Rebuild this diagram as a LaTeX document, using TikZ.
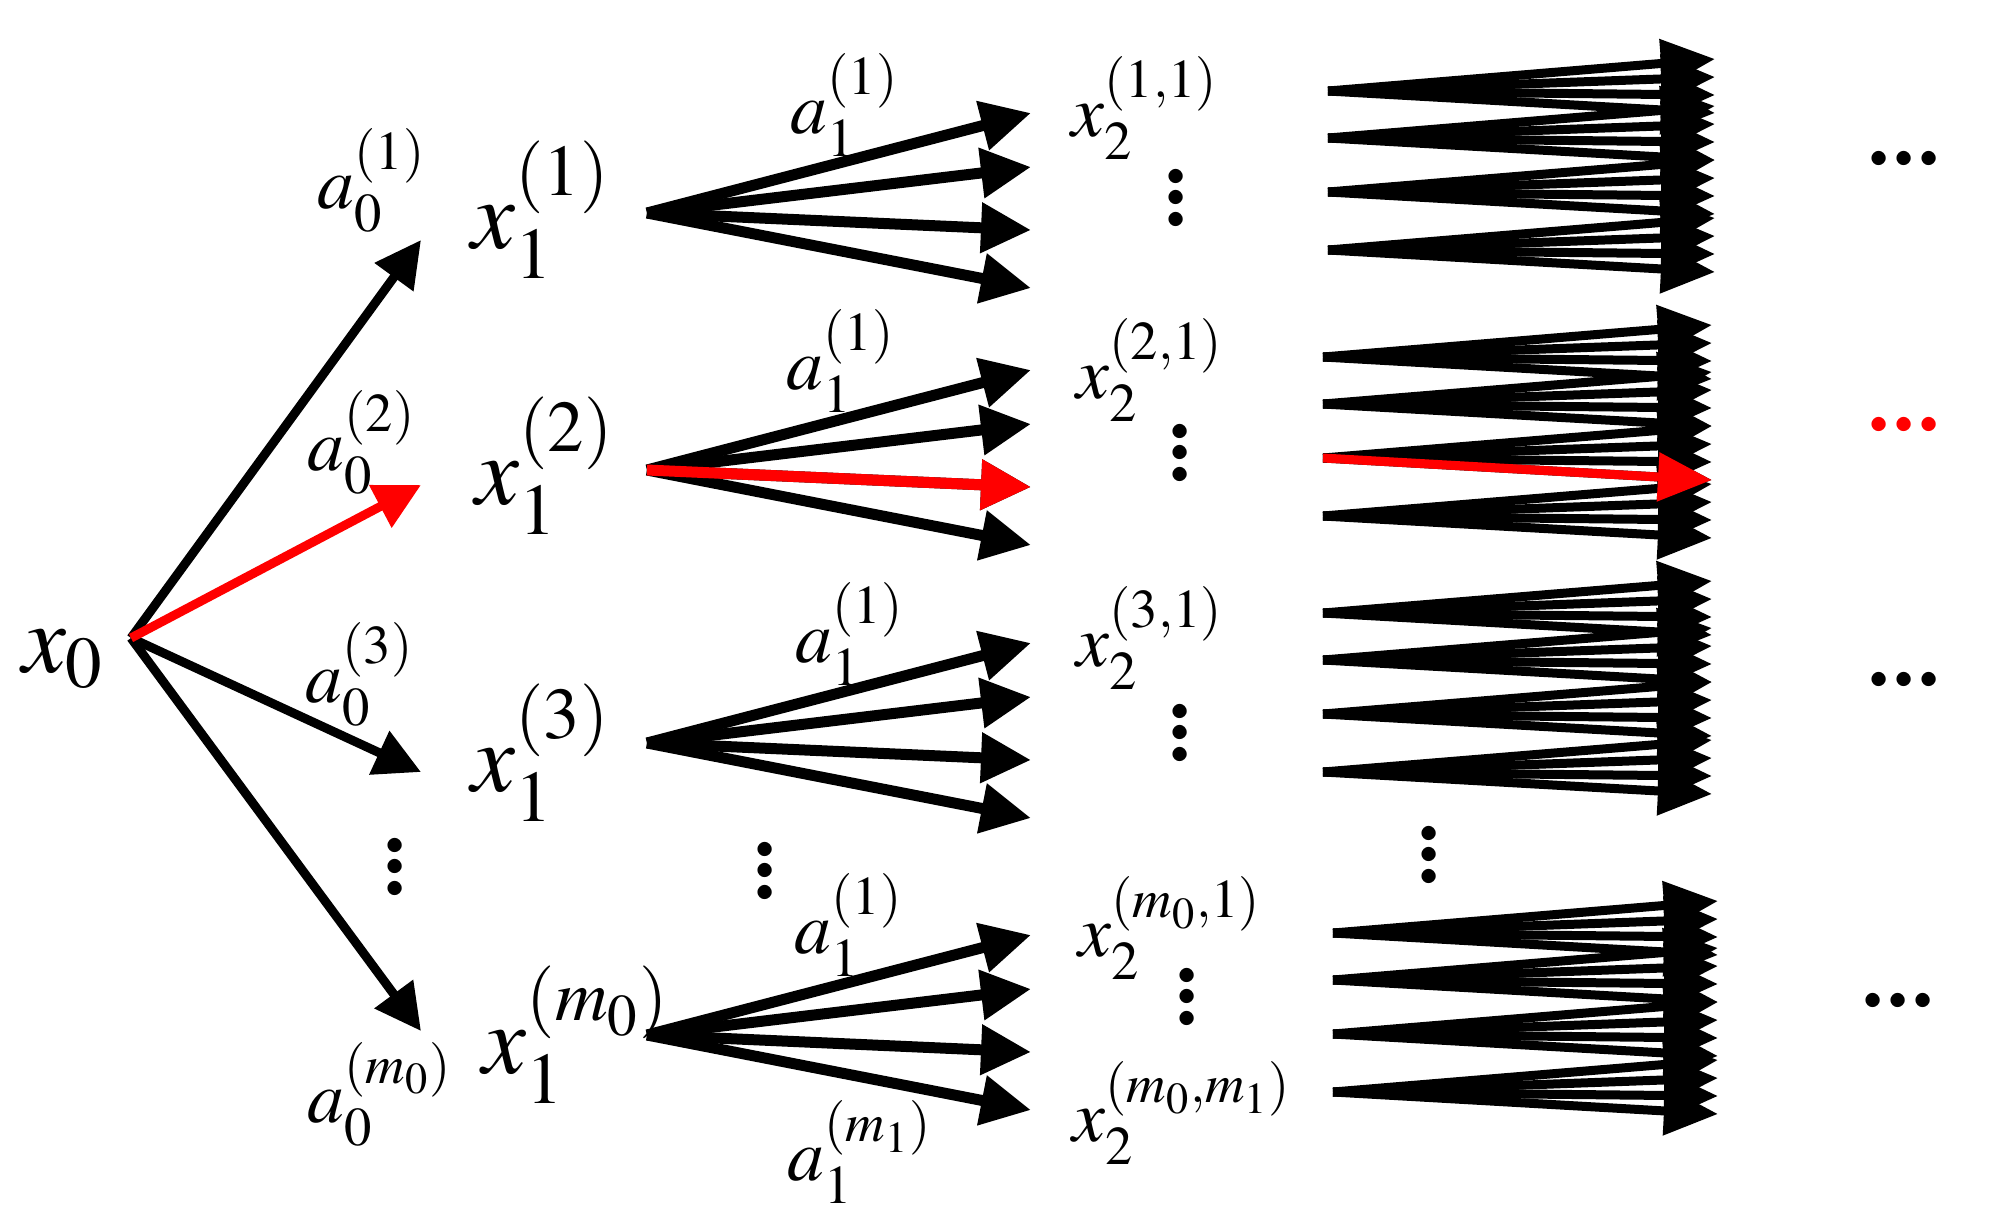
\documentclass[tikz,border=0pt]{standalone}
\usepackage{mathptmx}
\usetikzlibrary{arrows.meta}

\newcommand{\vdotz}{\vbox{\baselineskip=6pt \lineskiplimit=-10pt \hbox{.}\hbox{.}\hbox{.}}}
\newcommand{\hdotz}{\hbox{.\kern1pt.\kern1pt.}}

\begin{document}
\begin{tikzpicture}[
    x=0.1mm, y=-0.1mm,
    big/.style={font=\fontsize{28}{28}\selectfont, inner sep=0pt},
    small/.style={font=\fontsize{21}{21}\selectfont, inner sep=0pt},
    dotz/.style={font=\fontsize{24}{24}\usefont{OT1}{ptm}{b}{n}, inner sep=0pt},
    act/.style={line width=0.9mm, -{Triangle[length=4.6mm,width=4.6mm]}},
    fan/.style={line width=1.1mm, -{Triangle[length=5mm,width=4.8mm]}},
    leaf/.style={line width=0.9mm, -{Triangle[length=5.4mm,width=4.7mm]}}
  ]
    \useasboundingbox (0,0) rectangle (2000,1210);

    % states
    \node[big] (x0) at (63,659) {$x_0$};
    \node[big] (x11) at (541,210) {$x_1^{(1)}$};
    \node[big] (x12) at (545,466) {$x_1^{(2)}$};
    \node[big] (x13) at (541,753) {$x_1^{(3)}$};
    \node[big] (x1m) at (576,1035) {$x_1^{(m_0)}$};

    \node[small] (x211) at (1145,108) {$x_2^{(1,1)}$};
    \node[small] (x221) at (1150,370) {$x_2^{(2,1)}$};
    \node[small] (x231) at (1150,638) {$x_2^{(3,1)}$};
    \node[small] (x2m1) at (1170,928) {$x_2^{(m_0,1)}$};
    \node[small] (x2mm) at (1182,1113) {$x_2^{(m_0,m_1)}$};

    % actions
    \node[small] (a01) at (372,180) {$a_0^{(1)}$};
    \node[small] (a02) at (362,442) {$a_0^{(2)}$};
    \node[small] (a03) at (360,674) {$a_0^{(3)}$};
    \node[small] (a0m) at (380,1094) {$a_0^{(m_0)}$};

    \node[small] (a11) at (845,105) {$a_1^{(1)}$};
    \node[small] (a12) at (841,361) {$a_1^{(1)}$};
    \node[small] (a13) at (850,634) {$a_1^{(1)}$};
    \node[small] (a14) at (849,925) {$a_1^{(1)}$};
    \node[small] (a1m) at (860,1152) {$a_1^{(m_1)}$};

    % dots
    \node[dotz] (v0) at (395,867) {\vdotz};
    \node[dotz] (v1) at (765,871) {\vdotz};
    \node[dotz] (v2) at (1429,855) {\vdotz};
    \node[dotz] (v21) at (1176,198) {\vdotz};
    \node[dotz] (v22) at (1180,453) {\vdotz};
    \node[dotz] (v23) at (1180,733) {\vdotz};
    \node[dotz] (v24) at (1187,997) {\vdotz};
    \node[dotz] (h1) at (1904,159) {\hdotz};
    \node[dotz, red] (h2) at (1904,425) {\hdotz};
    \node[dotz] (h3) at (1904,680) {\hdotz};
    \node[dotz] (h4) at (1898,1001) {\hdotz};

    % first step
    \coordinate (root) at (131,638);
    \foreach \y [count=\i] in {240,485,772,1031}
      \coordinate (e\i) at (421,\y);
    \foreach \i in {1,3,4}
      \draw[act] (root) -- (e\i);
    \draw[act, red] (root) -- (e2);

    % second step
    \foreach \s/\y in {1/213,2/470,3/743,4/1035} {
      \coordinate (f\s) at (647,\y);
      \foreach \d [count=\k] in {-100,-46,17,75}
        \coordinate (f\s-\k) at (1031,{\y+(\d)});
    }
    \foreach \s in {1,...,4}
      \foreach \k in {1,...,4}
        \draw[fan] (f\s) -- (f\s-\k);
    \draw[fan, red] (f2) -- (f2-3);

    % third step
    \foreach \g/\y/\xa/\xb in {1/91/1328/1715,2/357/1323/1712,3/613/1323/1712,4/933/1333/1718} {
      \foreach \o [count=\s] in {0,47,101,159} {
        \coordinate (r\g\s) at (\xa,{\y+\o});
        \foreach \d [count=\k] in {-32,-14,4,22}
          \coordinate (r\g\s-\k) at (\xb,{\y+\o+(\d)});
      }
    }
    \foreach \g in {1,...,4}
      \foreach \s in {1,...,4}
        \foreach \k in {1,...,4}
          \draw[leaf] (r\g\s) -- (r\g\s-\k);
    \draw[leaf, red] (r23) -- (r23-4);
\end{tikzpicture}
\end{document}
